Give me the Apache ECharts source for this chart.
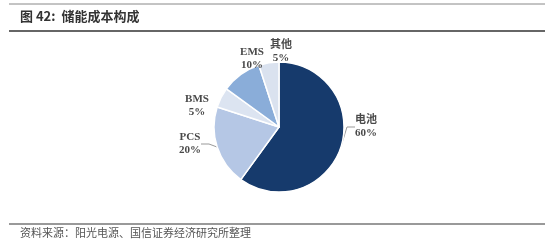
<!DOCTYPE html>
<html><head><meta charset="utf-8">
<script src="https://cdn.jsdelivr.net/npm/echarts@6/dist/echarts.min.js"></script>
<style>html,body{margin:0;padding:0;background:#fff}#c{width:550px;height:241px}</style>
</head><body><div id="c"></div>
<script>
const categories = ['电池', 'PCS', 'BMS', 'EMS', '其他'];
const values = [60, 20, 5, 10, 5];
const colors = ['#163a6c', '#b5c7e5', '#dce4f1', '#8aadd9', '#dae2ef'];
const titleText = '图 42:  储能成本构成';
const sourceText = '资料来源：阳光电源、国信证券经济研究所整理';

// label anchor points (layout only)
const labelPos = [[366, 127], [190, 144], [197, 106], [252, 59], [281, 52]];
const showLine = [true, true, false, false, false];

const chart = echarts.init(document.getElementById('c'));
chart.setOption({
  animation: false,
  backgroundColor: '#fff',
  graphic: [
    {type: 'line', shape: {x1: 9, y1: 4, x2: 545, y2: 4}, style: {stroke: '#888', lineWidth: 1}},
    {type: 'line', shape: {x1: 9, y1: 31, x2: 545, y2: 31}, style: {stroke: '#333', lineWidth: 1.5}},
    {type: 'text', left: 20, top: 10, style: {text: titleText, font: 'bold 13px "Noto Sans CJK SC"', fill: '#333'}},
    {type: 'line', shape: {x1: 9, y1: 224, x2: 545, y2: 224}, style: {stroke: '#777', lineWidth: 1.5}},
    {type: 'text', left: 20, top: 227, style: {text: sourceText, font: '11px "Noto Sans CJK SC"', fill: '#555'}}
  ],
  series: [{
    type: 'pie',
    center: [279, 127],
    radius: [0, 65],
    startAngle: 90,
    clockwise: true,
    color: colors,
    itemStyle: {borderColor: '#fff', borderWidth: 1.5},
    label: {
      formatter: '{b}\n{c}%',
      fontFamily: '"Liberation Serif", "Noto Sans CJK SC", serif',
      fontSize: 11,
      fontWeight: 'bold',
      color: '#4a4a4a',
      lineHeight: 13,
      align: 'center'
    },
    labelLine: {length: 8, length2: 8, lineStyle: {color: '#999', width: 1}},
    labelLayout: function (p) {
      const pos = labelPos[p.dataIndex];
      return {x: pos[0], y: pos[1], align: 'center', verticalAlign: 'middle'};
    },
    data: categories.map((n, i) => ({name: n, value: values[i], labelLine: {show: showLine[i]}}))
  }]
});
</script></body></html>
